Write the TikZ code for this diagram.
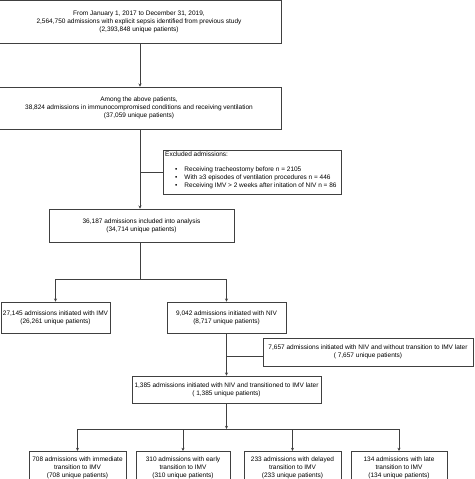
\documentclass[tikz,border=0pt]{standalone}
\usepackage{fontspec}
\setmainfont{Liberation Sans}
\usetikzlibrary{arrows.meta}
\tikzset{
  txt/.style={font=\fontsize{6.5}{8}\selectfont},
  box/.style={txt, draw=black!75, line width=0.6pt, align=center, inner sep=0pt},
  conn/.style={draw=black!75, line width=0.6pt},
  arr/.style={conn, -{Stealth[length=3.2pt,width=3pt]}}
}
\begin{document}
\begin{tikzpicture}[x=1pt,y=-1pt]
\useasboundingbox (0,0) rectangle (474,479);
\clip (0,0) rectangle (474,479);
\node[box, minimum width=284pt, minimum height=43pt] (b1) at (139,22) {From January 1, 2017 to December 31, 2019,\\2,564,750 admissions with explicit sepsis identified from previous study\\(2,393,848 unique patients)};
\node[box, minimum width=284pt, minimum height=42pt] (b2) at (139,108) {Among the above patients,\\38,824 admissions in immunocompromised conditions and receiving ventilation\\(37,059 unique patients)};
\node[draw=black!75, line width=0.6pt, minimum width=178pt, minimum height=44pt, inner sep=0pt, anchor=north west] (exc) at (163,150) {};
\node[txt, anchor=north west, inner sep=0pt, align=left] (exct) at (165,151.5) {Excluded admissions:};
\node[txt, anchor=north west, inner sep=0pt, align=left] (excl) at (175,166.5) {%
\textbullet\hspace{7pt}Receiving tracheostomy before n = 2105\\
\textbullet\hspace{7pt}With ≥3 episodes of ventilation procedures n = 446\\
\textbullet\hspace{7pt}Receiving IMV > 2 weeks after initation of NIV n = 86};
\node[box, minimum width=185pt, minimum height=33pt] (b3) at (141.5,225.5) {36,187 admissions included into analysis\\(34,714 unique patients)};
\node[box, minimum width=109pt, minimum height=31pt] (imv) at (55.5,317.5) {27,145 admissions initiated with IMV\\(26,261 unique patients)};
\node[box, minimum width=119pt, minimum height=31pt] (niv) at (226.5,317.5) {9,042 admissions initiated with NIV\\(8,717 unique patients)};
\node[box, minimum width=210pt, minimum height=28pt] (no) at (368,352) {7,657 admissions initiated with NIV and without transition to IMV later\\( 7,657 unique patients)};
\node[box, minimum width=189pt, minimum height=27pt] (yes) at (226.5,389.5) {1,385 admissions initiated with NIV and transitioned to IMV later\\( 1,385 unique patients)};
\node[box, minimum width=97pt, minimum height=36pt, anchor=north, text depth=4pt] (t1) at (77.5,451) {708 admissions with immediate\\transition to IMV\\(708 unique patients)};
\node[box, minimum width=94pt, minimum height=36pt, anchor=north, text depth=4pt] (t2) at (183,451) {310 admissions with early\\transition to IMV\\(310 unique patients)};
\node[box, minimum width=97pt, minimum height=36pt, anchor=north, text depth=4pt] (t3) at (292.5,451) {233 admissions with delayed\\transition to IMV\\(233 unique patients)};
\node[box, minimum width=96pt, minimum height=36pt, anchor=north, text depth=4pt] (t4) at (399,451) {134 admissions with late\\transition to IMV\\(134 unique patients)};
% connectors
\draw[arr] (b1.south -| 140,0) -- (b2.north -| 140,0);
\draw[arr] (b2.south -| 140,0) -- (b3.north -| 140,0);
\coordinate (e1) at (140,172);
\draw[conn] (e1) -- (e1 -| exc.west);
\coordinate (j1) at (140,279);
\draw[conn] (b3.south -| j1) -- (j1);
\draw[conn] (j1 -| imv.north) -- (j1 -| niv.north);
\draw[arr] (j1 -| imv.north) -- (imv.north);
\draw[arr] (j1 -| niv.north) -- (niv.north);
\draw[arr] (niv.south) -- (yes.north);
\coordinate (j2) at (226.5,356);
\draw[conn] (j2) -- (j2 -| no.west);
\coordinate (j3) at (226.5,429);
\draw[arr] (yes.south) -- (j3);
\draw[conn] (j3 -| t1.north) -- (j3 -| t4.north);
\draw[arr] (j3 -| t1.north) -- (t1.north);
\draw[arr] (j3 -| t2.north) -- (t2.north);
\draw[arr] (j3 -| t3.north) -- (t3.north);
\draw[arr] (j3 -| t4.north) -- (t4.north);
\end{tikzpicture}
\end{document}
